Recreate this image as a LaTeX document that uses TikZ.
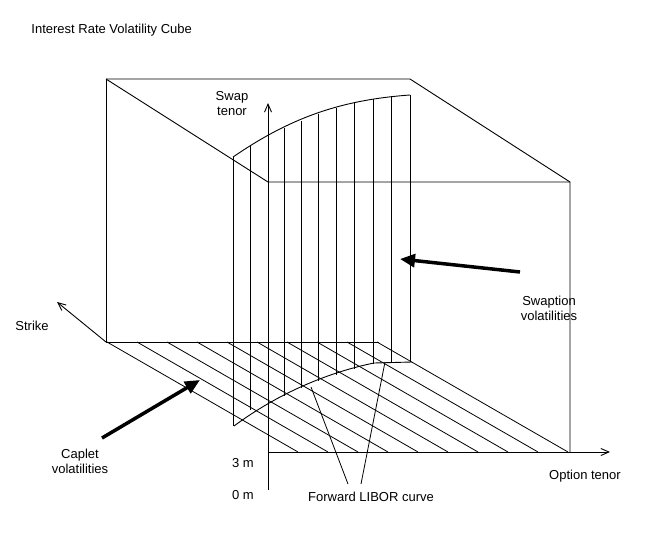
\documentclass[tikz,border=0pt]{standalone}
\usepackage{fontspec}
\setmainfont{Liberation Sans}
\usetikzlibrary{arrows.meta}
\begin{document}
\begin{tikzpicture}[x=1pt,y=-1pt,line width=0.9pt,
  lbl/.style={font=\fontsize{13}{15}\selectfont,align=center,inner sep=1pt},
  ax/.style={-{Straight Barb[length=8pt,width=7pt]}},
  big/.style={line width=3.5pt,-{Triangle[length=15pt,width=13pt]}},
  thin/.style={line width=0.8pt}]
\useasboundingbox (0,0) rectangle (661,549);
% corners
\coordinate (btl) at (106,79); \coordinate (btr) at (410,79);
\coordinate (bbl) at (106,342); \coordinate (bbm) at (379,342);
\coordinate (ftl) at (268,182); \coordinate (ftr) at (570,182);
\coordinate (fbl) at (268,452); \coordinate (fbr) at (570,452);
\coordinate (o0) at (268,490); \coordinate (yt) at (268,103);
\coordinate (xe) at (610,452); \coordinate (se) at (57,302);
% floor hatching
\begin{scope}[thin]
\foreach \i in {0,...,9}{ \draw (107+30*\i,342) -- (298+30*\i,452); }
\end{scope}
% cube
\draw (btl) -- (btr) -- (ftr) -- (fbr);
\draw (btl) -- (bbl) -- (bbm);
\draw (btl) -- (ftl) -- (ftr);
\draw (ftl) -- (fbl);
\draw[ax] (fbl) -- (xe);
\draw[ax] (o0) -- (yt);
\draw[ax] (bbl) -- (se);
% slices
\draw (233,157) .. controls (290,118) and (340,100) .. (410,95);
\draw (234,426) .. controls (280,392) and (330,372) .. (374,363) -- (412,362);
\foreach \x/\t/\b in {233/157/426,250/146/410,284/128/396,301/121/388,318/114/381,336/108/375,354/103/369,373/99/364,391/96/362,410/95/362}{
  \draw[thin] (\x,\t) -- (\x,\b);
}
% labels
\node[lbl,anchor=west] (title) at (30,30) {Interest Rate Volatility Cube};
\node[lbl] (swap) at (232,104) {Swap\\tenor};
\node[lbl] (swv) at (549,308) {Swaption\\volatilities};
\node[lbl,anchor=west] (strike) at (14,326) {Strike};
\node[lbl] (cap) at (80,461) {Caplet\\volatilities};
\node[lbl] (m3) at (243,463) {3 m};
\node[lbl] (m0) at (243,495) {0 m};
\node[lbl] (libor) at (371,497) {Forward LIBOR curve};
\node[lbl] (opt) at (585,476) {Option tenor};
\coordinate (l1) at (311,387); \coordinate (l2) at (385,362);
\draw[thin] (348,484) -- (l1); \draw[thin] (361,484) -- (l2);
% big arrows
\coordinate (sa) at (520,272); \coordinate (sb) at (400,259);
\coordinate (ca) at (102,438); \coordinate (cb) at (200,380);
\draw[big] (sa) -- (sb);
\draw[big] (ca) -- (cb);
\end{tikzpicture}
\end{document}
